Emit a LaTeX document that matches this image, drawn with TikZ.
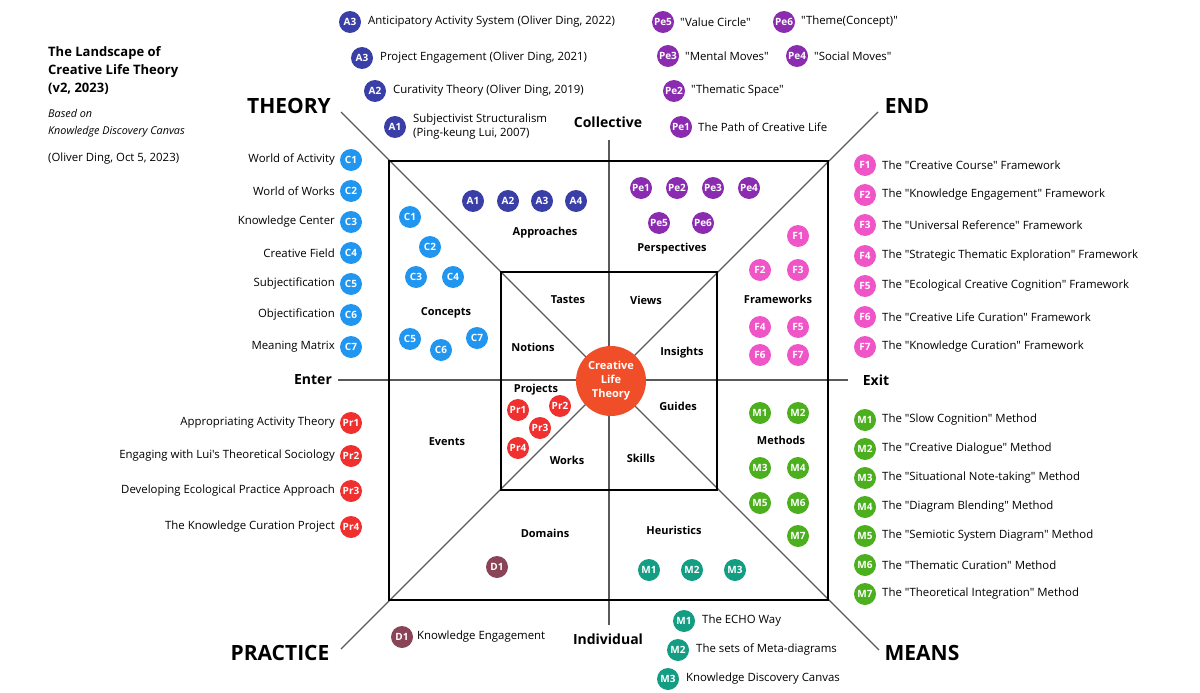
\documentclass[tikz,border=0pt]{standalone}
\usepackage{fontspec}
\setmainfont{Open Sans}[Ligatures=TeXOff]
\definecolor{cA}{HTML}{3A3FA8}
\definecolor{cPe}{HTML}{8B2BB0}
\definecolor{cC}{HTML}{2196F0}
\definecolor{cF}{HTML}{F055C8}
\definecolor{cPr}{HTML}{F0302E}
\definecolor{cM}{HTML}{4CAF1E}
\definecolor{cH}{HTML}{139E84}
\definecolor{cD}{HTML}{8A4458}
\definecolor{cCore}{HTML}{F04E28}
\begin{document}
\begin{tikzpicture}[x=1pt,y=-1pt,
  b/.style={circle,fill=#1,text=white,font=\fontsize{10}{10}\selectfont\bfseries,inner sep=0pt,minimum size=22pt},
  lab/.style={font=\fontsize{11}{11}\selectfont\bfseries},
  item/.style={font=\fontsize{11.4}{14}\selectfont,inner sep=0pt},
  big/.style={font=\fontsize{21}{21}\selectfont\bfseries},
  axis/.style={font=\fontsize{14}{14}\selectfont\bfseries},
  gl/.style={draw=black!65,line width=1.3pt},
  bl/.style={draw=black,line width=2pt}]
\useasboundingbox (0,0) rectangle (1200,693);
% lines
\draw[gl] (609,140) -- (609,625);
\draw[gl] (338,380) -- (848,380);
\draw[gl] (341,112) -- (879,650);
\draw[gl] (878,112) -- (341,649);
\draw[bl,fill=none] (389,161) rectangle (828,600);
\draw[bl] (501,272) rectangle (717,490);
\node[circle,fill=cCore,minimum size=70pt,inner sep=0pt,text=white,align=center,font=\fontsize{11}{14}\selectfont\bfseries] (core) at (611,381) {Creative\\Life\\Theory};
% title
\node[anchor=north west,align=left,font=\fontsize{13}{18}\selectfont\bfseries,inner sep=0pt] (t1) at (48,46) {The Landscape of\\Creative Life Theory\\(v2, 2023)};
\node[anchor=north west,align=left,font=\fontsize{10.8}{17}\selectfont\itshape,inner sep=0pt] (t2) at (48,109) {Based on\\Knowledge Discovery Canvas};
\node[anchor=west,font=\fontsize{11.4}{13}\selectfont,inner sep=0pt] (t3) at (48,159) {(Oliver Ding, Oct 5, 2023)};
% big labels
\node[big] (th) at (289,106) {THEORY};
\node[big] (en) at (907,106) {END};
\node[big] (pr) at (280,653) {PRACTICE};
\node[big] (me) at (922,653) {MEANS};
\node[axis] (co) at (608,122) {Collective};
\node[axis] (in) at (608,639) {Individual};
\node[axis] (ent) at (313,380) {Enter};
\node[axis] (ex) at (876,380) {Exit};
% region labels
\foreach \n/\x/\y/\t in {l1/545/233/Approaches,l2/446/313/Concepts,l3/672/249/Perspectives,l4/778/299/Frameworks,l5/781/440/Methods,l6/674/530/Heuristics,l7/545/533/Domains,l8/447/442/Events,l9/568/300/Tastes,l10/646/300/Views,l11/533/347/Notions,l12/682/353/Insights,l13/536/390/Projects,l14/678/406/Guides,l15/567/460/Works,l16/641/458/Skills}
  \node[lab] (\n) at (\x,\y) {\t};
% inner badges
\foreach \t/\x/\y in {A1/473/201,A2/508/201,A3/542/201,A4/576/201} \node[b=cA] (i\t) at (\x,\y) {\t};
\foreach \t/\x/\y in {C1/410/217,C2/430/247,C3/416/277,C4/453/277,C5/410/339,C6/441/350,C7/477/338} \node[b=cC] (i\t) at (\x,\y) {\t};
\foreach \t/\x/\y in {Pe1/641/188,Pe2/677/188,Pe3/713/188,Pe4/749/188,Pe5/659/223,Pe6/703/223} \node[b=cPe] (i\t) at (\x,\y) {\t};
\foreach \t/\x/\y in {F1/798/236,F2/760/270,F3/798/270,F4/760/327,F5/798/327,F6/760/355,F7/798/355} \node[b=cF] (i\t) at (\x,\y) {\t};
\foreach \t/\x/\y in {M1/760/413,M2/798/413,M3/760/468,M4/798/468,M5/760/503,M6/798/503,M7/798/536} \node[b=cM] (i\t) at (\x,\y) {\t};
\foreach \n/\t/\x in {H1/M1/649,H2/M2/692,H3/M3/735} \node[b=cH] (i\n) at (\x,570) {\t};
\node[b=cD] (iD1) at (497,567) {D1};
\foreach \t/\x/\y in {Pr1/518/410,Pr2/560/406,Pr3/540/428,Pr4/518/448} \node[b=cPr] (i\t) at (\x,\y) {\t};
% left list C
\foreach \t/\y/\s in {C1/160/World of Activity,C2/191/World of Works,C3/222/Knowledge Center,C4/253/Creative Field,C5/284/Subjectification,C6/315/Objectification,C7/347/Meaning Matrix} {
  \node[b=cC] (o\t) at (351,\y) {\t};
  \node[item,anchor=east] (s\t) at (335,\y) {\s};}
\foreach \t/\y/\s in {Pr1/423/Appropriating Activity Theory,Pr2/456/Engaging with Lui's Theoretical Sociology,Pr3/491/Developing Ecological Practice Approach,Pr4/527/The Knowledge Curation Project} {
  \node[b=cPr] (o\t) at (351,\y) {\t};
  \node[item,anchor=east] (s\t) at (335,\y) {\s};}
% right list F
\foreach \t/\y/\s in {F1/165/Creative Course,F2/195/Knowledge Engagement,F3/225/Universal Reference,F4/256/Strategic Thematic Exploration,F5/286/Ecological Creative Cognition,F6/317/Creative Life Curation,F7/347/Knowledge Curation} {
  \node[b=cF] (o\t) at (865,\y) {\t};
  \node[item,anchor=west] (s\t) at (882,\y) {The "\s" Framework};}
\foreach \t/\y/\s in {M1/420/Slow Cognition,M2/449/Creative Dialogue,M3/478/Situational Note-taking,M4/507/Diagram Blending,M5/536/Semiotic System Diagram,M6/565/Thematic Curation,M7/594/Theoretical Integration} {
  \node[b=cM] (o\t) at (865,\y) {\t};
  \node[item,anchor=west] (s\t) at (882,\y) {The "\s" Method};}
% top lists
\foreach \n/\t/\x/\y/\s in {a1/A3/350/22/{Anticipatory Activity System (Oliver Ding, 2022)},a2/A3/362/58/{Project Engagement (Oliver Ding, 2021)},a3/A2/375/91/{Curativity Theory (Oliver Ding, 2019)}} {
  \node[b=cA] (o\n) at (\x,\y) {\t};
  \node[item,anchor=west] (s\n) at ([xshift=18pt]o\n.center) {\s};}
\node[b=cA] (oa4) at (395,127) {A1};
\node[item,anchor=west,align=left] (sa4) at (413,127) {Subjectivist Structuralism\\(Ping-keung Lui, 2007)};
\foreach \n/\t/\x/\y/\s in {p1/Pe5/663/22/"Value Circle",p2/Pe6/784/22/"Theme(Concept)",p3/Pe3/668/56/"Mental Moves",p4/Pe4/797/56/"Social Moves",p5/Pe2/674/91/"Thematic Space",p6/Pe1/681/127/The Path of Creative Life} {
  \node[b=cPe] (o\n) at (\x,\y) {\t};
  \node[item,anchor=west] (s\n) at ([xshift=17pt]o\n.center) {\s};}
% bottom lists
\node[b=cD] (oD1) at (402,637) {D1};
\node[item,anchor=west] (sD1) at (417,637) {Knowledge Engagement};
\foreach \n/\t/\x/\y/\s in {h1/M1/684/621/The ECHO Way,h2/M2/678/650/The sets of Meta-diagrams,h3/M3/668/679/Knowledge Discovery Canvas} {
  \node[b=cH] (o\n) at (\x,\y) {\t};
  \node[item,anchor=west] (s\n) at ([xshift=18pt]o\n.center) {\s};}
\end{tikzpicture}
\end{document}
